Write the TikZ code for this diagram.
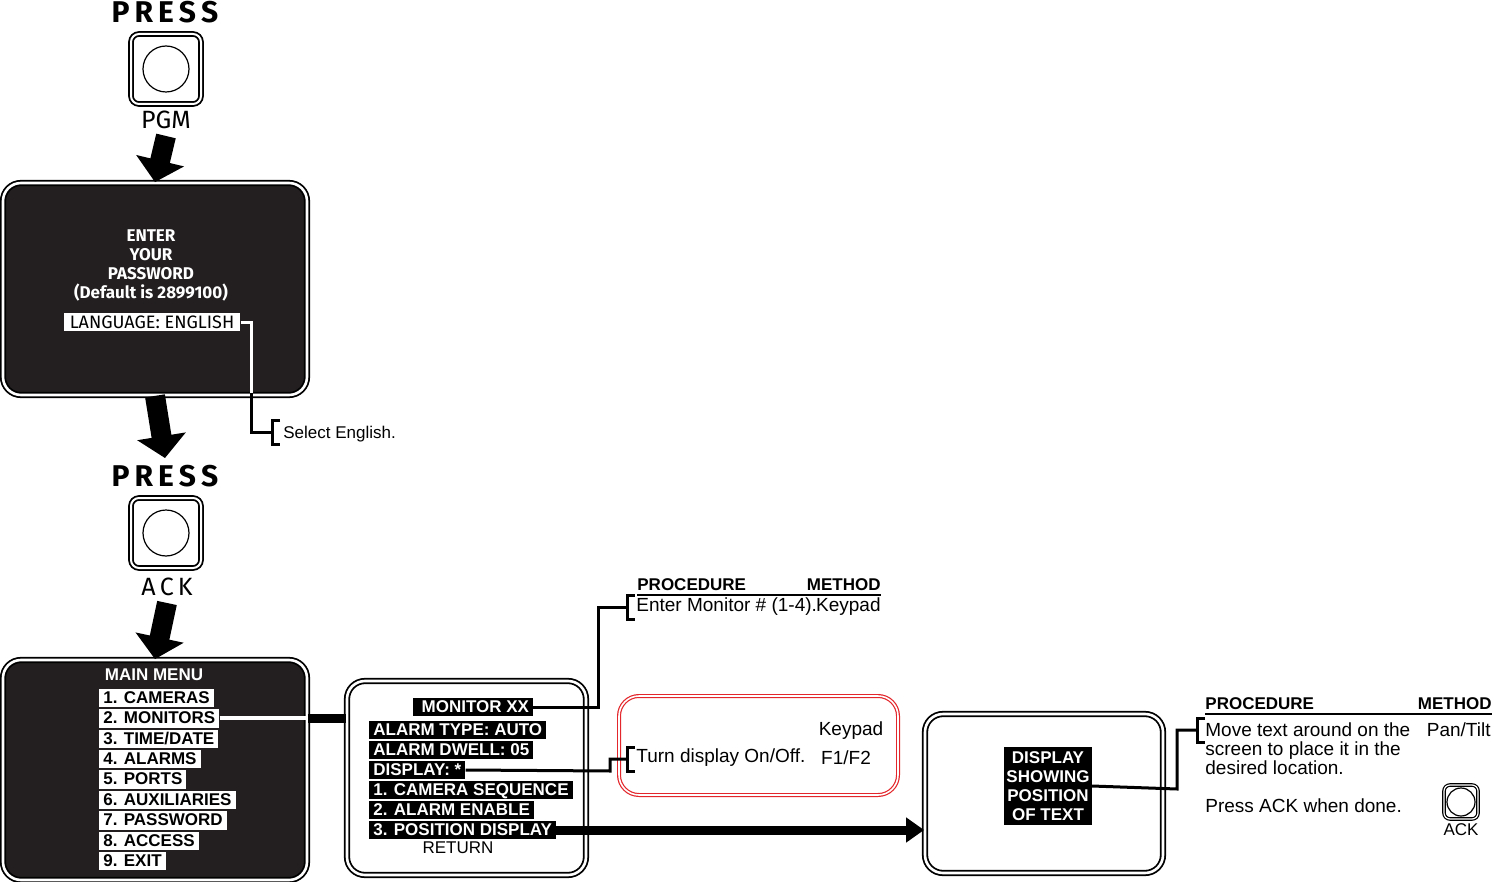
\documentclass[tikz,border=0pt]{standalone}
\usepackage{fontspec}
\setmainfont{Liberation Sans}
\newfontfamily\keyfont{Fira Sans}
\usetikzlibrary{arrows.meta,calc}
\definecolor{scrdark}{HTML}{231F20}
\definecolor{boxred}{HTML}{E3262B}
\tikzset{
     screen/.style={draw, double, double distance=1.3pt, line width=0.9pt, rounded corners=9pt, fill=#1, inner sep=0pt},
     key/.style={draw, double, double distance=1pt, line width=0.9pt, rounded corners=4pt, minimum size=35pt, inner sep=0pt},
     knob/.style={circle, draw, line width=0.6pt, minimum size=23pt, inner sep=0pt},
     bigdown/.style={line width=10pt, -{Triangle[width=24pt,length=11pt]}},
     wbox/.style={fill=white, text=black, font=\bfseries\fontsize{8.5}{10}\selectfont, inner xsep=2pt, inner ysep=0.6pt, text height=6.6pt, text depth=1.4pt, anchor=west},
     bbox/.style={wbox, fill=black, text=white},
     scrtxt/.style={text=white, font=\keyfont\bfseries\fontsize{8.5}{9.5}\selectfont, align=center, inner sep=1pt},
     proc/.style={font=\fontsize{9.5}{9.7}\selectfont, inner sep=0pt},
     head/.style={font=\bfseries\fontsize{8.5}{10}\selectfont, inner sep=0pt},
     link/.style={line width=1.5pt},
     bracket/.style={line width=1.5pt},
}
\tikzset{>=latex}
\newcommand{\brk}[1]{\draw[bracket] ($(#1)+(8,-12)$) -- ++(-8,0) -- ++(0,24) -- ++(8,0);}

\begin{document}
\begin{tikzpicture}[x=0.5pt, y=-0.5pt]
\useasboundingbox (0,0) rectangle (1499,882);

% first key
\node[font=\keyfont\bfseries\fontsize{15}{15}\selectfont] (press1) at (165,12) {P\,R\,E\,S\,S};
\node[key] (pgm) at (166,69) {};
\node[knob] at (pgm) {};
\node[font=\keyfont\fontsize{12.5}{13}\selectfont] (pgmlbl) at (166,120) {PGM};

% password screen
\node[screen=scrdark, minimum width=152pt, minimum height=106pt] (scr1) at (155,289) {};
\draw[bigdown] (pgmlbl.south) -- (scr1.north);
\node[scrtxt] at (151,265) {ENTER\\YOUR\\PASSWORD\\(Default is 2899100)};
\node[fill=white, font=\keyfont\fontsize{9}{10}\selectfont, inner xsep=3pt, inner ysep=1.5pt] (lang) at (152,322) {LANGUAGE: ENGLISH};

\coordinate (b1) at (272,432);
\draw[link] (lang.east) -- ++(11,0) |- (b1);
\begin{scope}
  \clip (5,186) rectangle (305,392);
  \draw[link, white] (lang.east) -- ++(11,0) |- (b1);
\end{scope}
\brk{b1}
\node[proc, anchor=west, font=\fontsize{8.5}{10}\selectfont] at (283,434) {Select English.};

% second key
\node[font=\keyfont\bfseries\fontsize{15}{15}\selectfont] (press2) at (165,476) {P\,R\,E\,S\,S};
\draw[bigdown] (scr1.south) -- (press2.north);
\node[key] (ack) at (166,533) {};
\node[knob] at (ack) {};
\node[font=\keyfont\fontsize{12.5}{13}\selectfont] (acklbl) at (167,587) {A\,C\,K};

% main menu
\node[screen=scrdark, minimum width=152pt, minimum height=110pt] (menu) at (155,770) {};
\draw[bigdown] (acklbl.south) -- (menu.north);
\node[text=white, font=\bfseries\fontsize{8.5}{10}\selectfont] at (154,675) {MAIN MENU};
\foreach \t [count=\i] in {1. CAMERAS, 2. MONITORS, 3. TIME/DATE, 4. ALARMS, 5. PORTS, 6. AUXILIARIES, 7. PASSWORD, 8. ACCESS, 9. EXIT}
   \node[wbox] (m\i) at (99,{698+20.4*(\i-1)}) {\t~};

% monitor screen
\node[screen=white, minimum width=119.5pt, minimum height=97pt] (mon) at (466.5,778) {};
\draw[line width=2pt, white] (m2.east) -- (m2.east -| menu.east);
\draw[line width=4.5pt] (m2.east -| menu.east) -- (mon.west |- m2.east);
\node[bbox, anchor=center] (monxx) at (473,707) {~MONITOR XX~};
\foreach \t [count=\i] in {ALARM TYPE: AUTO, ALARM DWELL: 05, DISPLAY: *, 1. CAMERA SEQUENCE, 2. ALARM ENABLE, 3. POSITION DISPLAY}
   \node[bbox] (p\i) at (369,{730+20*(\i-1)}) {\t~};
\node[font=\fontsize{8.5}{10}\selectfont, inner sep=0pt] at (458,848) {RETURN};

% monitor procedure
\coordinate (b2) at (627,607);
\draw[link] (monxx.east) -| (598,607) -- (b2);
\brk{b2}
\node[head, anchor=west] (ph1) at (637,585) {PROCEDURE};
\node[head, anchor=east] (mh1) at (881,585) {METHOD};
\draw[line width=1pt] (637,595) -- (881,595);
\node[proc, anchor=west] at (636,607) {Enter Monitor \# (1-4).};
\node[proc, anchor=east] at (881,607) {Keypad};

% display on/off
\node[draw=boxred, double, double distance=0.8pt, line width=0.6pt, rounded corners=10pt, minimum width=139.5pt, minimum height=49.5pt] (redbox) at (758.5,745.5) {};
\coordinate (b3) at (627,759);
\draw[link] (p3.east) -- (610,771) -- (610,759) -- (b3);
\brk{b3}
\node[proc, anchor=west] at (636,758) {Turn display On/Off.};
\node[proc] at (851,731) {Keypad};
\node[proc] at (846,758) {F1/F2};

% position display screen
\node[screen=white, minimum width=119pt, minimum height=79.5pt] (scr4) at (1044,793.5) {};
\draw[line width=4.5pt, -{Triangle[width=12pt,length=9pt]}] (p6.east) -- (scr4.west |- p6.east);
\node[fill=black, text=white, font=\bfseries\fontsize{8.5}{9.6}\selectfont, align=center, inner xsep=1pt, inner ysep=2pt] (pos) at (1048,786) {DISPLAY\\SHOWING\\POSITION\\OF TEXT};
\coordinate (b4) at (1197,730);
\draw[link] (pos.east) -- (1177,789) -- (1177,730) -- (b4);
\brk{b4}
\node[head, anchor=west] at (1205,704) {PROCEDURE};
\node[head, anchor=east] at (1492,704) {METHOD};
\draw[line width=1pt] (1205,714) -- (1492,714);
\node[proc, anchor=north west, align=left] at (1205,722) {Move text around on the\\screen to place it in the\\desired location.};
\node[proc, anchor=east] at (1491,730) {Pan/Tilt};
\node[proc, anchor=west] at (1205,806) {Press ACK when done.};
\node[key, minimum size=17pt, rounded corners=3pt, double distance=0.6pt, line width=0.6pt] (ack2) at (1461,802) {};
\node[knob, minimum size=14pt] at (ack2) {};
\node[font=\fontsize{8.5}{10}\selectfont, inner sep=0pt] at (1461,830) {ACK};
\end{tikzpicture}
\end{document}
